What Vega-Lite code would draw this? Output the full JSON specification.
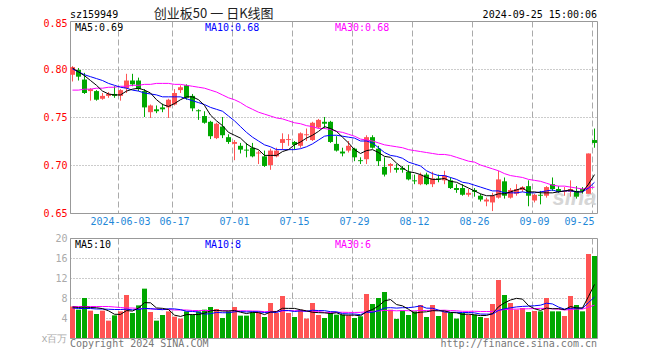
{
  "$schema": "https://vega.github.io/schema/vega-lite/v6.json",
  "background": "white",
  "padding": {"left": 40, "top": 7, "right": 0, "bottom": 0},
  "spacing": 5,
  "datasets": {
    "k": [
      {"d":"2024-05-22","o":0.794,"h":0.803,"l":0.787,"c":0.802,"dir":"up","v":6.3,"m5":0.801,"m10":0.800,"m30":0.778,"vm5":6.2,"vm10":6.0,"vm30":6.3},
      {"d":"2024-05-23","o":0.799,"h":0.801,"l":0.788,"c":0.792,"dir":"down","v":5.67,"m5":0.797,"m10":0.797,"m30":0.778,"vm5":6.1,"vm10":5.9,"vm30":6.3},
      {"d":"2024-05-24","o":0.789,"h":0.796,"l":0.774,"c":0.775,"dir":"down","v":8.0,"m5":0.793,"m10":0.794,"m30":0.779,"vm5":6.2,"vm10":5.9,"vm30":6.3},
      {"d":"2024-05-27","o":0.777,"h":0.780,"l":0.767,"c":0.779,"dir":"up","v":5.47,"m5":0.788,"m10":0.792,"m30":0.779,"vm5":6.1,"vm10":5.9,"vm30":6.3},
      {"d":"2024-05-28","o":0.777,"h":0.778,"l":0.767,"c":0.768,"dir":"down","v":4.8,"m5":0.783,"m10":0.790,"m30":0.780,"vm5":6.05,"vm10":5.8,"vm30":6.3},
      {"d":"2024-05-29","o":0.769,"h":0.775,"l":0.768,"c":0.772,"dir":"up","v":5.47,"m5":0.777,"m10":0.788,"m30":0.780,"vm5":5.88,"vm10":5.8,"vm30":6.3},
      {"d":"2024-05-30","o":0.772,"h":0.776,"l":0.770,"c":0.774,"dir":"up","v":3.47,"m5":0.774,"m10":0.785,"m30":0.781,"vm5":5.44,"vm10":5.75,"vm30":6.3},
      {"d":"2024-05-31","o":0.774,"h":0.782,"l":0.770,"c":0.772,"dir":"down","v":4.53,"m5":0.773,"m10":0.783,"m30":0.781,"vm5":4.75,"vm10":5.7,"vm30":6.2},
      {"d":"2024-06-03","o":0.772,"h":0.779,"l":0.767,"c":0.778,"dir":"up","v":5.33,"m5":0.773,"m10":0.781,"m30":0.782,"vm5":4.72,"vm10":5.7,"vm30":6.1},
      {"d":"2024-06-04","o":0.780,"h":0.795,"l":0.775,"c":0.788,"dir":"up","v":8.6,"m5":0.777,"m10":0.780,"m30":0.782,"vm5":5.48,"vm10":5.76,"vm30":6.0},
      {"d":"2024-06-05","o":0.788,"h":0.795,"l":0.782,"c":0.784,"dir":"down","v":5.0,"m5":0.779,"m10":0.778,"m30":0.783,"vm5":5.39,"vm10":5.63,"vm30":6.0},
      {"d":"2024-06-06","o":0.788,"h":0.791,"l":0.777,"c":0.779,"dir":"down","v":6.53,"m5":0.780,"m10":0.777,"m30":0.783,"vm5":6.0,"vm10":5.72,"vm30":5.9},
      {"d":"2024-06-07","o":0.777,"h":0.779,"l":0.750,"c":0.760,"dir":"down","v":9.87,"m5":0.778,"m10":0.775,"m30":0.784,"vm5":7.07,"vm10":5.91,"vm30":5.9},
      {"d":"2024-06-11","o":0.755,"h":0.763,"l":0.749,"c":0.762,"dir":"up","v":5.2,"m5":0.775,"m10":0.774,"m30":0.784,"vm5":7.04,"vm10":5.88,"vm30":5.8},
      {"d":"2024-06-12","o":0.758,"h":0.762,"l":0.754,"c":0.756,"dir":"down","v":3.47,"m5":0.768,"m10":0.773,"m30":0.785,"vm5":6.01,"vm10":5.75,"vm30":5.8},
      {"d":"2024-06-13","o":0.760,"h":0.764,"l":0.755,"c":0.758,"dir":"down","v":4.6,"m5":0.763,"m10":0.771,"m30":0.785,"vm5":5.93,"vm10":5.66,"vm30":5.7},
      {"d":"2024-06-14","o":0.760,"h":0.769,"l":0.749,"c":0.768,"dir":"up","v":5.33,"m5":0.761,"m10":0.771,"m30":0.785,"vm5":5.69,"vm10":5.85,"vm30":5.7},
      {"d":"2024-06-17","o":0.763,"h":0.779,"l":0.762,"c":0.775,"dir":"up","v":4.27,"m5":0.764,"m10":0.771,"m30":0.784,"vm5":4.57,"vm10":5.82,"vm30":5.6},
      {"d":"2024-06-18","o":0.778,"h":0.783,"l":0.775,"c":0.781,"dir":"up","v":3.87,"m5":0.768,"m10":0.771,"m30":0.784,"vm5":4.31,"vm10":5.67,"vm30":5.6},
      {"d":"2024-06-19","o":0.783,"h":0.784,"l":0.768,"c":0.770,"dir":"down","v":5.33,"m5":0.771,"m10":0.769,"m30":0.783,"vm5":4.68,"vm10":5.35,"vm30":5.6},
      {"d":"2024-06-20","o":0.772,"h":0.774,"l":0.756,"c":0.759,"dir":"down","v":4.67,"m5":0.771,"m10":0.767,"m30":0.782,"vm5":4.69,"vm10":5.31,"vm30":5.5},
      {"d":"2024-06-21","o":0.757,"h":0.758,"l":0.747,"c":0.756,"dir":"down","v":5.33,"m5":0.768,"m10":0.765,"m30":0.781,"vm5":4.69,"vm10":5.19,"vm30":5.5},
      {"d":"2024-06-24","o":0.751,"h":0.756,"l":0.743,"c":0.744,"dir":"down","v":5.67,"m5":0.762,"m10":0.763,"m30":0.780,"vm5":4.97,"vm10":4.77,"vm30":5.5},
      {"d":"2024-06-25","o":0.745,"h":0.746,"l":0.727,"c":0.730,"dir":"down","v":6.2,"m5":0.752,"m10":0.760,"m30":0.778,"vm5":5.44,"vm10":4.87,"vm30":5.5},
      {"d":"2024-06-26","o":0.728,"h":0.744,"l":0.727,"c":0.743,"dir":"up","v":5.8,"m5":0.746,"m10":0.758,"m30":0.776,"vm5":5.53,"vm10":5.11,"vm30":5.5},
      {"d":"2024-06-27","o":0.740,"h":0.750,"l":0.728,"c":0.731,"dir":"down","v":4.0,"m5":0.741,"m10":0.756,"m30":0.773,"vm5":5.4,"vm10":5.05,"vm30":5.5},
      {"d":"2024-06-28","o":0.729,"h":0.732,"l":0.722,"c":0.724,"dir":"down","v":5.33,"m5":0.734,"m10":0.751,"m30":0.770,"vm5":5.4,"vm10":5.05,"vm30":5.45},
      {"d":"2024-07-01","o":0.722,"h":0.726,"l":0.705,"c":0.724,"dir":"up","v":6.2,"m5":0.731,"m10":0.746,"m30":0.768,"vm5":5.51,"vm10":5.24,"vm30":5.45},
      {"d":"2024-07-02","o":0.720,"h":0.723,"l":0.712,"c":0.716,"dir":"down","v":4.47,"m5":0.728,"m10":0.740,"m30":0.765,"vm5":5.16,"vm10":5.3,"vm30":5.45},
      {"d":"2024-07-03","o":0.716,"h":0.723,"l":0.708,"c":0.715,"dir":"down","v":4.47,"m5":0.722,"m10":0.734,"m30":0.761,"vm5":4.89,"vm10":5.21,"vm30":5.44},
      {"d":"2024-07-04","o":0.718,"h":0.723,"l":0.708,"c":0.709,"dir":"down","v":5.13,"m5":0.718,"m10":0.729,"m30":0.758,"vm5":5.12,"vm10":5.26,"vm30":5.40},
      {"d":"2024-07-05","o":0.712,"h":0.715,"l":0.701,"c":0.713,"dir":"up","v":5.13,"m5":0.716,"m10":0.725,"m30":0.755,"vm5":5.08,"vm10":5.24,"vm30":5.38},
      {"d":"2024-07-08","o":0.709,"h":0.715,"l":0.698,"c":0.699,"dir":"down","v":4.2,"m5":0.710,"m10":0.721,"m30":0.753,"vm5":4.68,"vm10":5.09,"vm30":5.26},
      {"d":"2024-07-09","o":0.700,"h":0.717,"l":0.695,"c":0.715,"dir":"up","v":7.0,"m5":0.710,"m10":0.719,"m30":0.751,"vm5":5.19,"vm10":5.17,"vm30":5.31},
      {"d":"2024-07-10","o":0.709,"h":0.718,"l":0.708,"c":0.715,"dir":"up","v":5.0,"m5":0.710,"m10":0.716,"m30":0.749,"vm5":5.29,"vm10":5.09,"vm30":5.32},
      {"d":"2024-07-11","o":0.723,"h":0.733,"l":0.716,"c":0.727,"dir":"up","v":8.4,"m5":0.714,"m10":0.716,"m30":0.748,"vm5":5.95,"vm10":5.53,"vm30":5.41},
      {"d":"2024-07-12","o":0.726,"h":0.732,"l":0.720,"c":0.727,"dir":"up","v":5.0,"m5":0.716,"m10":0.716,"m30":0.746,"vm5":5.92,"vm10":5.5,"vm30":5.46},
      {"d":"2024-07-15","o":0.724,"h":0.725,"l":0.716,"c":0.721,"dir":"down","v":4.2,"m5":0.721,"m10":0.716,"m30":0.744,"vm5":5.92,"vm10":5.3,"vm30":5.45},
      {"d":"2024-07-16","o":0.720,"h":0.734,"l":0.718,"c":0.733,"dir":"up","v":5.67,"m5":0.724,"m10":0.717,"m30":0.743,"vm5":5.65,"vm10":5.42,"vm30":5.46},
      {"d":"2024-07-17","o":0.731,"h":0.738,"l":0.725,"c":0.732,"dir":"up","v":3.87,"m5":0.728,"m10":0.719,"m30":0.741,"vm5":5.43,"vm10":5.36,"vm30":5.31},
      {"d":"2024-07-18","o":0.726,"h":0.745,"l":0.725,"c":0.744,"dir":"up","v":7.0,"m5":0.731,"m10":0.722,"m30":0.740,"vm5":5.15,"vm10":5.55,"vm30":5.37},
      {"d":"2024-07-19","o":0.739,"h":0.748,"l":0.738,"c":0.747,"dir":"up","v":4.6,"m5":0.735,"m10":0.726,"m30":0.738,"vm5":5.07,"vm10":5.49,"vm30":5.31},
      {"d":"2024-07-22","o":0.745,"h":0.750,"l":0.738,"c":0.743,"dir":"down","v":4.0,"m5":0.740,"m10":0.730,"m30":0.738,"vm5":5.03,"vm10":5.47,"vm30":5.11},
      {"d":"2024-07-23","o":0.745,"h":0.746,"l":0.723,"c":0.724,"dir":"down","v":5.0,"m5":0.738,"m10":0.731,"m30":0.737,"vm5":4.89,"vm10":5.27,"vm30":5.11},
      {"d":"2024-07-24","o":0.722,"h":0.730,"l":0.714,"c":0.715,"dir":"down","v":4.67,"m5":0.735,"m10":0.731,"m30":0.735,"vm5":5.05,"vm10":5.24,"vm30":5.15},
      {"d":"2024-07-25","o":0.714,"h":0.718,"l":0.709,"c":0.712,"dir":"down","v":4.67,"m5":0.729,"m10":0.730,"m30":0.734,"vm5":4.59,"vm10":4.87,"vm30":5.15},
      {"d":"2024-07-26","o":0.715,"h":0.725,"l":0.713,"c":0.720,"dir":"up","v":4.53,"m5":0.723,"m10":0.729,"m30":0.732,"vm5":4.57,"vm10":4.82,"vm30":5.12},
      {"d":"2024-07-29","o":0.717,"h":0.718,"l":0.704,"c":0.708,"dir":"down","v":4.0,"m5":0.716,"m10":0.728,"m30":0.730,"vm5":4.57,"vm10":4.8,"vm30":5.11},
      {"d":"2024-07-30","o":0.705,"h":0.708,"l":0.701,"c":0.704,"dir":"down","v":4.33,"m5":0.712,"m10":0.725,"m30":0.727,"vm5":4.44,"vm10":4.67,"vm30":5.13},
      {"d":"2024-07-31","o":0.706,"h":0.731,"l":0.701,"c":0.729,"dir":"up","v":8.8,"m5":0.715,"m10":0.725,"m30":0.726,"vm5":5.27,"vm10":5.16,"vm30":5.24},
      {"d":"2024-08-01","o":0.729,"h":0.731,"l":0.717,"c":0.718,"dir":"down","v":6.8,"m5":0.716,"m10":0.723,"m30":0.725,"vm5":5.69,"vm10":5.14,"vm30":5.32},
      {"d":"2024-08-02","o":0.717,"h":0.720,"l":0.699,"c":0.704,"dir":"down","v":8.0,"m5":0.713,"m10":0.718,"m30":0.723,"vm5":6.39,"vm10":5.48,"vm30":5.40},
      {"d":"2024-08-05","o":0.698,"h":0.708,"l":0.688,"c":0.690,"dir":"down","v":9.2,"m5":0.709,"m10":0.713,"m30":0.721,"vm5":7.43,"vm10":6.0,"vm30":5.52},
      {"d":"2024-08-06","o":0.699,"h":0.702,"l":0.692,"c":0.701,"dir":"up","v":5.67,"m5":0.708,"m10":0.710,"m30":0.720,"vm5":7.69,"vm10":6.07,"vm30":5.50},
      {"d":"2024-08-07","o":0.697,"h":0.701,"l":0.692,"c":0.695,"dir":"down","v":3.8,"m5":0.702,"m10":0.709,"m30":0.719,"vm5":6.69,"vm10":5.98,"vm30":5.44},
      {"d":"2024-08-08","o":0.697,"h":0.699,"l":0.692,"c":0.695,"dir":"down","v":5.47,"m5":0.697,"m10":0.707,"m30":0.718,"vm5":6.43,"vm10":6.06,"vm30":5.49},
      {"d":"2024-08-09","o":0.693,"h":0.700,"l":0.684,"c":0.685,"dir":"down","v":4.6,"m5":0.693,"m10":0.703,"m30":0.716,"vm5":5.75,"vm10":6.07,"vm30":5.46},
      {"d":"2024-08-12","o":0.684,"h":0.690,"l":0.680,"c":0.683,"dir":"down","v":5.33,"m5":0.692,"m10":0.701,"m30":0.715,"vm5":4.97,"vm10":6.2,"vm30":5.43},
      {"d":"2024-08-13","o":0.680,"h":0.692,"l":0.679,"c":0.690,"dir":"up","v":6.6,"m5":0.690,"m10":0.699,"m30":0.714,"vm5":5.16,"vm10":6.43,"vm30":5.50},
      {"d":"2024-08-14","o":0.690,"h":0.692,"l":0.679,"c":0.680,"dir":"down","v":4.2,"m5":0.687,"m10":0.694,"m30":0.713,"vm5":5.24,"vm10":5.97,"vm30":5.50},
      {"d":"2024-08-15","o":0.680,"h":0.693,"l":0.677,"c":0.686,"dir":"up","v":6.6,"m5":0.685,"m10":0.691,"m30":0.712,"vm5":5.47,"vm10":5.95,"vm30":5.54},
      {"d":"2024-08-16","o":0.686,"h":0.690,"l":0.682,"c":0.685,"dir":"down","v":4.4,"m5":0.685,"m10":0.689,"m30":0.711,"vm5":5.43,"vm10":5.59,"vm30":5.52},
      {"d":"2024-08-19","o":0.684,"h":0.694,"l":0.680,"c":0.689,"dir":"up","v":5.33,"m5":0.686,"m10":0.689,"m30":0.711,"vm5":5.43,"vm10":5.2,"vm30":5.56},
      {"d":"2024-08-20","o":0.684,"h":0.687,"l":0.675,"c":0.676,"dir":"down","v":5.0,"m5":0.683,"m10":0.687,"m30":0.710,"vm5":5.11,"vm10":5.13,"vm30":5.49},
      {"d":"2024-08-21","o":0.676,"h":0.680,"l":0.671,"c":0.674,"dir":"down","v":3.87,"m5":0.682,"m10":0.685,"m30":0.708,"vm5":5.04,"vm10":5.14,"vm30":5.45},
      {"d":"2024-08-22","o":0.676,"h":0.680,"l":0.668,"c":0.669,"dir":"down","v":5.0,"m5":0.679,"m10":0.682,"m30":0.706,"vm5":4.72,"vm10":5.09,"vm30":5.34},
      {"d":"2024-08-23","o":0.669,"h":0.675,"l":0.667,"c":0.671,"dir":"up","v":4.67,"m5":0.676,"m10":0.681,"m30":0.704,"vm5":4.77,"vm10":5.1,"vm30":5.33},
      {"d":"2024-08-26","o":0.674,"h":0.676,"l":0.667,"c":0.672,"dir":"down","v":4.67,"m5":0.673,"m10":0.679,"m30":0.703,"vm5":4.64,"vm10":5.03,"vm30":5.35},
      {"d":"2024-08-27","o":0.668,"h":0.670,"l":0.662,"c":0.664,"dir":"down","v":4.2,"m5":0.670,"m10":0.677,"m30":0.700,"vm5":4.48,"vm10":4.79,"vm30":5.30},
      {"d":"2024-08-28","o":0.662,"h":0.666,"l":0.657,"c":0.664,"dir":"up","v":4.0,"m5":0.668,"m10":0.675,"m30":0.698,"vm5":4.51,"vm10":4.77,"vm30":5.30},
      {"d":"2024-08-29","o":0.661,"h":0.671,"l":0.652,"c":0.668,"dir":"up","v":6.8,"m5":0.668,"m10":0.673,"m30":0.696,"vm5":4.87,"vm10":4.79,"vm30":5.29},
      {"d":"2024-08-30","o":0.666,"h":0.694,"l":0.665,"c":0.685,"dir":"up","v":11.6,"m5":0.670,"m10":0.673,"m30":0.694,"vm5":6.25,"vm10":5.51,"vm30":5.53},
      {"d":"2024-09-02","o":0.683,"h":0.687,"l":0.665,"c":0.668,"dir":"down","v":8.6,"m5":0.670,"m10":0.671,"m30":0.691,"vm5":7.04,"vm10":5.84,"vm30":5.68},
      {"d":"2024-09-03","o":0.666,"h":0.676,"l":0.665,"c":0.674,"dir":"up","v":7.0,"m5":0.672,"m10":0.671,"m30":0.689,"vm5":7.6,"vm10":6.04,"vm30":5.75},
      {"d":"2024-09-04","o":0.670,"h":0.680,"l":0.668,"c":0.675,"dir":"up","v":5.67,"m5":0.674,"m10":0.671,"m30":0.688,"vm5":7.93,"vm10":6.22,"vm30":5.78},
      {"d":"2024-09-05","o":0.674,"h":0.678,"l":0.672,"c":0.677,"dir":"up","v":6.0,"m5":0.676,"m10":0.672,"m30":0.687,"vm5":7.77,"vm10":6.32,"vm30":5.82},
      {"d":"2024-09-06","o":0.678,"h":0.684,"l":0.657,"c":0.668,"dir":"down","v":5.2,"m5":0.672,"m10":0.671,"m30":0.685,"vm5":6.49,"vm10":6.37,"vm30":5.85},
      {"d":"2024-09-09","o":0.663,"h":0.670,"l":0.661,"c":0.669,"dir":"up","v":5.4,"m5":0.672,"m10":0.671,"m30":0.684,"vm5":5.85,"vm10":6.45,"vm30":5.89},
      {"d":"2024-09-10","o":0.669,"h":0.673,"l":0.659,"c":0.668,"dir":"down","v":5.33,"m5":0.671,"m10":0.672,"m30":0.683,"vm5":5.52,"vm10":6.56,"vm30":5.93},
      {"d":"2024-09-11","o":0.668,"h":0.678,"l":0.666,"c":0.677,"dir":"up","v":8.0,"m5":0.671,"m10":0.673,"m30":0.681,"vm5":5.99,"vm10":6.96,"vm30":5.90},
      {"d":"2024-09-12","o":0.680,"h":0.687,"l":0.673,"c":0.675,"dir":"down","v":5.33,"m5":0.671,"m10":0.674,"m30":0.679,"vm5":5.85,"vm10":6.81,"vm30":5.85},
      {"d":"2024-09-13","o":0.675,"h":0.678,"l":0.671,"c":0.672,"dir":"down","v":5.33,"m5":0.672,"m10":0.672,"m30":0.678,"vm5":5.88,"vm10":6.19,"vm30":5.76},
      {"d":"2024-09-18","o":0.672,"h":0.677,"l":0.668,"c":0.673,"dir":"up","v":4.4,"m5":0.673,"m10":0.673,"m30":0.678,"vm5":5.68,"vm10":5.77,"vm30":5.60},
      {"d":"2024-09-19","o":0.672,"h":0.684,"l":0.667,"c":0.675,"dir":"up","v":8.4,"m5":0.674,"m10":0.673,"m30":0.677,"vm5":6.29,"vm10":5.91,"vm30":5.69},
      {"d":"2024-09-20","o":0.673,"h":0.678,"l":0.665,"c":0.667,"dir":"down","v":6.6,"m5":0.672,"m10":0.672,"m30":0.676,"vm5":6.01,"vm10":6.0,"vm30":5.79},
      {"d":"2024-09-23","o":0.675,"h":0.677,"l":0.670,"c":0.673,"dir":"down","v":5.33,"m5":0.672,"m10":0.672,"m30":0.675,"vm5":6.01,"vm10":5.93,"vm30":5.78},
      {"d":"2024-09-24","o":0.670,"h":0.712,"l":0.668,"c":0.712,"dir":"up","v":16.8,"m5":0.680,"m10":0.676,"m30":0.676,"vm5":8.31,"vm10":7.09,"vm30":6.19},
      {"d":"2024-09-25","o":0.726,"h":0.738,"l":0.718,"c":0.723,"dir":"down","v":16.4,"m5":0.690,"m10":0.682,"m30":0.677,"vm5":10.71,"vm10":8.19,"vm30":6.56}
    ]
  },
  "vconcat": [
    {
      "width": 527,
      "height": 192,
      "encoding": {
        "x": {
          "field": "d", "type": "ordinal", "title": null,
          "scale": {"type": "band", "paddingInner": 0.16667, "paddingOuter": 0},
          "axis": {
            "values": ["2024-06-03","2024-06-17","2024-07-01","2024-07-15","2024-07-29","2024-08-12","2024-08-26","2024-09-09","2024-09-25"],
            "bandPosition": 0,
            "labelAngle": 0,
            "labelExpr": "datum.value == '2024-06-03' ? datum.value : slice(datum.value, 5)",
            "labelAlign": {"condition": {"test": "datum.value == '2024-09-25'", "value": "right"}, "value": "center"},
            "labelBaseline": "top",
            "labelColor": "#1f88d8",
            "labelPadding": 3,
            "labelOverlap": false,
            "labelBound": false,
            "grid": true,
            "gridColor": "#aaaaaa",
            "gridDash": [6, 3],
            "ticks": false,
            "domain": false
          }
        }
      },
      "layer": [
        {
          "data": {"name": "k"},
          "mark": {"type": "rule", "strokeWidth": 1},
          "encoding": {
            "y": {
              "field": "l", "type": "quantitative", "title": null,
              "scale": {"domain": [0.65, 0.85], "nice": false, "zero": false},
              "axis": {
                "values": [0.65, 0.7, 0.75, 0.8, 0.85],
                "format": ".2f",
                "labelColor": "#ff0000",
                "labelPadding": 3,
                "labelOverlap": false,
                "labelOffset": {"condition": {"test": "datum.value > 0.84", "value": 2}, "value": 0},
                "grid": true,
                "gridColor": "#999999",
                "gridDash": [1, 2],
                "ticks": false,
                "domain": false
              }
            },
            "y2": {"field": "h"},
            "color": {"field": "dir", "type": "nominal", "legend": null, "scale": {"domain": ["up", "down"], "range": ["#ff5454", "#00a800"]}}
          }
        },
        {
          "data": {"values": [{}]},
          "mark": {"type": "text", "text": "sina", "font": "Liberation Sans", "fontSize": 22, "fontStyle": "italic", "fontWeight": "bold", "color": "#d6d6d6", "align": "right", "baseline": "alphabetic", "dx": 2},
          "encoding": {
            "x": {"datum": "2024-09-25", "type": "ordinal"},
            "y": {"datum": 0.658, "type": "quantitative", "title": null}
          }
        },
        {
          "data": {"name": "k"},
          "mark": {"type": "bar"},
          "encoding": {
            "y": {"field": "o", "type": "quantitative", "title": null},
            "y2": {"field": "c"},
            "color": {"field": "dir", "type": "nominal", "legend": null}
          }
        },
        {
          "data": {"name": "k"},
          "mark": {"type": "line", "color": "#ff00ff", "strokeWidth": 1},
          "encoding": {"y": {"field": "m30", "type": "quantitative", "title": null}}
        },
        {
          "data": {"name": "k"},
          "mark": {"type": "line", "color": "#0000ff", "strokeWidth": 1},
          "encoding": {"y": {"field": "m10", "type": "quantitative", "title": null}}
        },
        {
          "data": {"name": "k"},
          "mark": {"type": "line", "color": "#000000", "strokeWidth": 1},
          "encoding": {"y": {"field": "m5", "type": "quantitative", "title": null}}
        },
        {
          "data": {"values": [{}]},
          "mark": {"type": "text", "text": "MA5:0.69", "font": "DejaVu Sans Mono", "fontSize": 10, "color": "#000000", "align": "left", "baseline": "alphabetic", "dx": 2.5, "dy": 10},
          "encoding": {"x": {"datum": "2024-05-22", "type": "ordinal"}, "y": {"datum": 0.85, "type": "quantitative", "title": null}}
        },
        {
          "data": {"values": [{}]},
          "mark": {"type": "text", "text": "MA10:0.68", "font": "DejaVu Sans Mono", "fontSize": 10, "color": "#0000ff", "align": "left", "baseline": "alphabetic", "dx": 0.5, "dy": 10},
          "encoding": {"x": {"datum": "2024-06-24", "type": "ordinal"}, "y": {"datum": 0.85, "type": "quantitative", "title": null}}
        },
        {
          "data": {"values": [{}]},
          "mark": {"type": "text", "text": "MA30:0.68", "font": "DejaVu Sans Mono", "fontSize": 10, "color": "#ff00ff", "align": "left", "baseline": "alphabetic", "dx": -1.5, "dy": 10},
          "encoding": {"x": {"datum": "2024-07-24", "type": "ordinal"}, "y": {"datum": 0.85, "type": "quantitative", "title": null}}
        },
        {
          "data": {"values": [{}]},
          "mark": {"type": "text", "text": "sz159949", "font": "DejaVu Sans Mono", "fontSize": 10, "color": "#000000", "align": "left", "baseline": "alphabetic", "dx": -2.5, "dy": -3},
          "encoding": {"x": {"datum": "2024-05-22", "type": "ordinal"}, "y": {"datum": 0.85, "type": "quantitative", "title": null}}
        },
        {
          "data": {"values": [{}]},
          "mark": {"type": "text", "text": "创业板50 一 日K线图", "font": "Noto Sans CJK SC", "fontSize": 13, "color": "#222222", "align": "center", "baseline": "alphabetic", "dx": -2.8, "dy": -3},
          "encoding": {"x": {"datum": "2024-06-26", "type": "ordinal"}, "y": {"datum": 0.85, "type": "quantitative", "title": null}}
        },
        {
          "data": {"values": [{}]},
          "mark": {"type": "text", "text": "2024-09-25 15:00:06", "font": "DejaVu Sans Mono", "fontSize": 10, "color": "#000000", "align": "right", "baseline": "alphabetic", "dx": 2.5, "dy": -3},
          "encoding": {"x": {"datum": "2024-09-25", "type": "ordinal"}, "y": {"datum": 0.85, "type": "quantitative", "title": null}}
        }
      ]
    },
    {
      "width": 527,
      "height": 100,
      "encoding": {
        "x": {
          "field": "d", "type": "ordinal", "title": null,
          "scale": {"type": "band", "paddingInner": 0.16667, "paddingOuter": 0},
          "axis": {
            "values": ["2024-06-03","2024-06-17","2024-07-01","2024-07-15","2024-07-29","2024-08-12","2024-08-26","2024-09-09","2024-09-25"],
            "bandPosition": 0,
            "labels": false,
            "grid": true,
            "gridColor": "#aaaaaa",
            "gridDash": [6, 3],
            "ticks": false,
            "domain": false
          }
        }
      },
      "resolve": {"axis": {"y": "independent"}},
      "layer": [
        {
          "data": {"name": "k"},
          "mark": {"type": "bar"},
          "encoding": {
            "y": {
              "field": "v", "type": "quantitative", "title": null,
              "scale": {"domain": [0, 20], "nice": false},
              "axis": {
                "values": [0, 4, 8, 12, 16, 20],
                "tickCount": 6,
                "labelExpr": "datum.value == 0 ? 'x百万' : datum.label",
                "labelColor": "#aaaaaa",
                "labelPadding": 3,
                "labelOverlap": false,
                "labelSeparation": 0,
                "grid": true,
                "gridColor": "#999999",
                "gridDash": [1, 2],
                "ticks": false,
                "domain": false
              }
            },
            "color": {"field": "dir", "type": "nominal", "legend": null, "scale": {"domain": ["up", "down"], "range": ["#ff5454", "#00a800"]}}
          }
        },
        {
          "data": {"name": "k"},
          "mark": {"type": "line", "color": "#ff00ff", "strokeWidth": 1},
          "encoding": {"y": {"field": "vm30", "type": "quantitative", "title": null, "axis": null}}
        },
        {
          "data": {"name": "k"},
          "mark": {"type": "line", "color": "#0000ff", "strokeWidth": 1},
          "encoding": {"y": {"field": "vm10", "type": "quantitative", "title": null, "axis": null}}
        },
        {
          "data": {"name": "k"},
          "mark": {"type": "line", "color": "#000000", "strokeWidth": 1},
          "encoding": {"y": {"field": "vm5", "type": "quantitative", "title": null, "axis": null}}
        },
        {
          "data": {"values": [{}]},
          "mark": {"type": "text", "text": "MA5:10", "font": "DejaVu Sans Mono", "fontSize": 10, "color": "#000000", "align": "left", "baseline": "alphabetic", "dx": 2.5, "dy": 10},
          "encoding": {"x": {"datum": "2024-05-22", "type": "ordinal"}, "y": {"datum": 20, "type": "quantitative", "title": null, "axis": null}}
        },
        {
          "data": {"values": [{}]},
          "mark": {"type": "text", "text": "MA10:8", "font": "DejaVu Sans Mono", "fontSize": 10, "color": "#0000ff", "align": "left", "baseline": "alphabetic", "dx": 0.5, "dy": 10},
          "encoding": {"x": {"datum": "2024-06-24", "type": "ordinal"}, "y": {"datum": 20, "type": "quantitative", "title": null, "axis": null}}
        },
        {
          "data": {"values": [{}]},
          "mark": {"type": "text", "text": "MA30:6", "font": "DejaVu Sans Mono", "fontSize": 10, "color": "#ff00ff", "align": "left", "baseline": "alphabetic", "dx": -1.5, "dy": 10},
          "encoding": {"x": {"datum": "2024-07-24", "type": "ordinal"}, "y": {"datum": 20, "type": "quantitative", "title": null, "axis": null}}
        },
        {
          "data": {"values": [{}]},
          "mark": {"type": "text", "text": "Copyright 2024 SINA.COM", "font": "DejaVu Sans Mono", "fontSize": 10, "color": "#777777", "align": "left", "baseline": "alphabetic", "dx": -2.5, "dy": 9},
          "encoding": {"x": {"datum": "2024-05-22", "type": "ordinal"}, "y": {"datum": 0, "type": "quantitative", "title": null, "axis": null}}
        },
        {
          "data": {"values": [{}]},
          "mark": {"type": "text", "text": "http://finance.sina.com.cn", "font": "DejaVu Sans Mono", "fontSize": 10, "color": "#777777", "align": "right", "baseline": "alphabetic", "dx": 2.5, "dy": 9},
          "encoding": {"x": {"datum": "2024-09-25", "type": "ordinal"}, "y": {"datum": 0, "type": "quantitative", "title": null, "axis": null}}
        }
      ]
    }
  ],
  "config": {
    "view": {"stroke": "#999999", "strokeWidth": 1},
    "axis": {"labelFont": "DejaVu Sans Mono", "labelFontSize": 10, "labelOverlap": false},
    "concat": {"spacing": 5}
  }
}
